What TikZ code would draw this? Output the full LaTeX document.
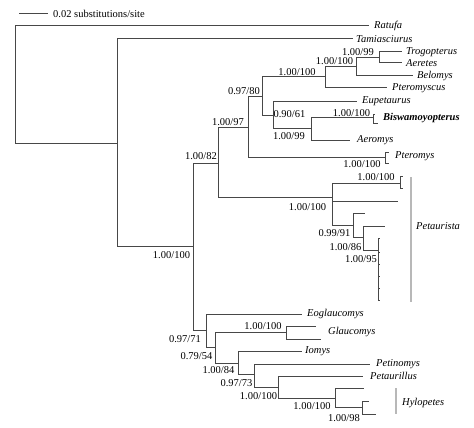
\documentclass[tikz,border=0pt]{standalone}
\usepackage{fontspec}
\setmainfont{Liberation Serif}
\usepackage{tikz}
\usetikzlibrary{positioning}

\begin{document}
\begin{tikzpicture}[x=1pt,y=-1pt,font=\fontsize{10.5}{12}\selectfont,
                    br/.style={draw=black!72,line width=1pt,to path={|- (\tikztotarget)}},
                    taxon/.style={font=\fontsize{10.5}{12}\selectfont\itshape,inner sep=0pt},
                    supp/.style={inner sep=0pt},
                    bar/.style={draw=black!28,line width=1.4pt}]

\useasboundingbox (0,0) rectangle (474,428);

% scale bar
\coordinate (sbA) at (19,14);
\coordinate (sbB) at (48,14);
\node[supp, right=5pt of sbB] (sbT) {0.02 substitutions/site};

% branching points
\coordinate (r0) at (15,84.5);
\coordinate (n1) at (117,143);
\coordinate (n2) at (193,246);
\coordinate (n3) at (218,163);
\coordinate (n4) at (248,127);
\coordinate (n5) at (262,96);
\coordinate (n6) at (325,77);
\coordinate (n6a) at (356,67);
\coordinate (n6b) at (379,58);
\coordinate (n7) at (273,115);
\coordinate (n8) at (311,128);
\coordinate (nBis) at (373,117);
\coordinate (nPte) at (385,157);
\coordinate (n9) at (332,197);
\coordinate (nP1) at (400,183);
\coordinate (n9a) at (353,225);
\coordinate (n9b) at (363,237);
\coordinate (n9c) at (378,250);
\coordinate (n10) at (206,330);
\coordinate (n11) at (215,347);
\coordinate (nGla) at (286,332);
\coordinate (n12) at (238,363);
\coordinate (n13) at (254,374);
\coordinate (n14) at (278,387);
\coordinate (n15) at (335,398);
\coordinate (n16) at (362,407);

% tips
\coordinate (tRat) at (369,26);
\coordinate (tTam) at (353,39);
\coordinate (tTro) at (402,52);
\coordinate (tAer) at (402,63);
\coordinate (tBel) at (413,76);
\coordinate (tPtc) at (387,88);
\coordinate (tEup) at (357,101);
\coordinate (tBisA) at (375,114);
\coordinate (tBisB) at (378,123);
\coordinate (tAero) at (350,140);
\coordinate (tPteA) at (389,152);
\coordinate (tPteB) at (389,163);
\coordinate (tP1a) at (403,176);
\coordinate (tP1b) at (403,188);
\coordinate (tP2) at (398,201);
\coordinate (tP3) at (365,213);
\coordinate (tP4) at (385,226);
\coordinate (tQ1) at (380,238);
\coordinate (tQ2) at (380,252);
\coordinate (tQ3) at (380,264);
\coordinate (tQ4) at (380,276);
\coordinate (tQ5) at (380,288);
\coordinate (tQ6) at (380,300);
\coordinate (tEog) at (302,314);
\coordinate (tGlaA) at (316,326);
\coordinate (tGlaB) at (321,339);
\coordinate (tIom) at (302,351);
\coordinate (tPet) at (370,364);
\coordinate (tPtl) at (363,376);
\coordinate (tHylA) at (364,388);
\coordinate (tHylB) at (369,401);
\coordinate (tHylC) at (376,414);

% clade bars
\coordinate (pTop) at (411,177);
\coordinate (pBot) at (411,302);
\coordinate (hTop) at (396,388);
\coordinate (hBot) at (396,414);

\path
    (sbA) edge [br] (sbB)
    (r0) edge [br] (tRat)
    (r0) edge [br] (n1)
    (n1) edge [br] (tTam)
    (n1) edge [br] (n2)
    (n2) edge [br] (n3)
    (n2) edge [br] (n10)
    (n3) edge [br] (n4)
    (n3) edge [br] (n9)
    (n4) edge [br] (n5)
    (n4) edge [br] (nPte)
    (n5) edge [br] (n6)
    (n5) edge [br] (n7)
    (n6) edge [br] (n6a)
    (n6) edge [br] (tPtc)
    (n6a) edge [br] (n6b)
    (n6a) edge [br] (tBel)
    (n6b) edge [br] (tTro)
    (n6b) edge [br] (tAer)
    (n7) edge [br] (tEup)
    (n7) edge [br] (n8)
    (n8) edge [br] (nBis)
    (n8) edge [br] (tAero)
    (nBis) edge [br] (tBisA)
    (nBis) edge [br] (tBisB)
    (nPte) edge [br] (tPteA)
    (nPte) edge [br] (tPteB)
    (n9) edge [br] (nP1)
    (n9) edge [br] (tP2)
    (n9) edge [br] (n9a)
    (nP1) edge [br] (tP1a)
    (nP1) edge [br] (tP1b)
    (n9a) edge [br] (tP3)
    (n9a) edge [br] (n9b)
    (n9b) edge [br] (tP4)
    (n9b) edge [br] (n9c)
    (n9c) edge [br] (tQ1)
    (n9c) edge [br] (tQ2)
    (n9c) edge [br] (tQ3)
    (n9c) edge [br] (tQ4)
    (n9c) edge [br] (tQ5)
    (n9c) edge [br] (tQ6)
    (n10) edge [br] (tEog)
    (n10) edge [br] (n11)
    (n11) edge [br] (nGla)
    (n11) edge [br] (n12)
    (nGla) edge [br] (tGlaA)
    (nGla) edge [br] (tGlaB)
    (n12) edge [br] (tIom)
    (n12) edge [br] (n13)
    (n13) edge [br] (tPet)
    (n13) edge [br] (n14)
    (n14) edge [br] (tPtl)
    (n14) edge [br] (n15)
    (n15) edge [br] (tHylA)
    (n15) edge [br] (n16)
    (n16) edge [br] (tHylB)
    (n16) edge [br] (tHylC)
    (pTop) edge [bar] (pBot)
    (hTop) edge [bar] (hBot)
    ;

% taxon names
\node[taxon, right=5pt of tRat] (xRat) {Ratufa};
\node[taxon, right=3pt of tTam] (xTam) {Tamiasciurus};
\node[taxon, right=4pt of tTro] (xTro) {Trogopterus};
\node[taxon, right=4pt of tAer] (xAer) {Aeretes};
\node[taxon, right=4pt of tBel] (xBel) {Belomys};
\node[taxon, right=5pt of tPtc] (xPtc) {Pteromyscus};
\node[taxon, right=5pt of tEup] (xEup) {Eupetaurus};
\node[taxon, anchor=west] (xBis) at (383,118) {\bfseries Biswamoyopterus};
\node[taxon, right=7pt of tAero] (xAero) {Aeromys};
\node[taxon, anchor=west] (xPte) at (395,156) {Pteromys};
\node[taxon, anchor=west] (xPet) at (416,226) {Petaurista};
\node[taxon, right=5pt of tEog] (xEog) {Eoglaucomys};
\node[taxon, anchor=west] (xGla) at (328,332) {Glaucomys};
\node[taxon, right=3pt of tIom] (xIom) {Iomys};
\node[taxon, right=6pt of tPet] (xPetn) {Petinomys};
\node[taxon, right=7pt of tPtl] (xPtl) {Petaurillus};
\node[taxon, anchor=west] (xHyl) at (402,403) {Hylopetes};

% support values
\node[supp] (sN6b) at (358,52) {1.00/99};
\node[supp] (sN6a) at (334.5,61) {1.00/100};
\node[supp] (sN6) at (297,72) {1.00/100};
\node[supp] (sN5) at (244,91) {0.97/80};
\node[supp] (sN7) at (289.5,114) {0.90/61};
\node[supp] (sBis) at (351.5,113) {1.00/100};
\node[supp] (sN8) at (289,136) {1.00/99};
\node[supp] (sN4) at (228,122) {1.00/97};
\node[supp] (sN3) at (201,156) {1.00/82};
\node[supp] (sPte) at (362,164) {1.00/100};
\node[supp] (sN2) at (171.5,255) {1.00/100};
\node[supp] (sN9) at (307.5,207) {1.00/100};
\node[supp] (sP1) at (376,177) {1.00/100};
\node[supp] (sN9a) at (334.5,233) {0.99/91};
\node[supp] (sN9b) at (345.5,247) {1.00/86};
\node[supp] (sN9c) at (361,259) {1.00/95};
\node[supp] (sN10) at (185,339) {0.97/71};
\node[supp] (sN11) at (196.5,356) {0.79/54};
\node[supp] (sGla) at (263,326) {1.00/100};
\node[supp] (sN12) at (218.5,370) {1.00/84};
\node[supp] (sN13) at (236.5,383) {0.97/73};
\node[supp] (sN14) at (258.5,396) {1.00/100};
\node[supp] (sN15) at (312,406) {1.00/100};
\node[supp] (sN16) at (344,418) {1.00/98};

\end{tikzpicture}
\end{document}
